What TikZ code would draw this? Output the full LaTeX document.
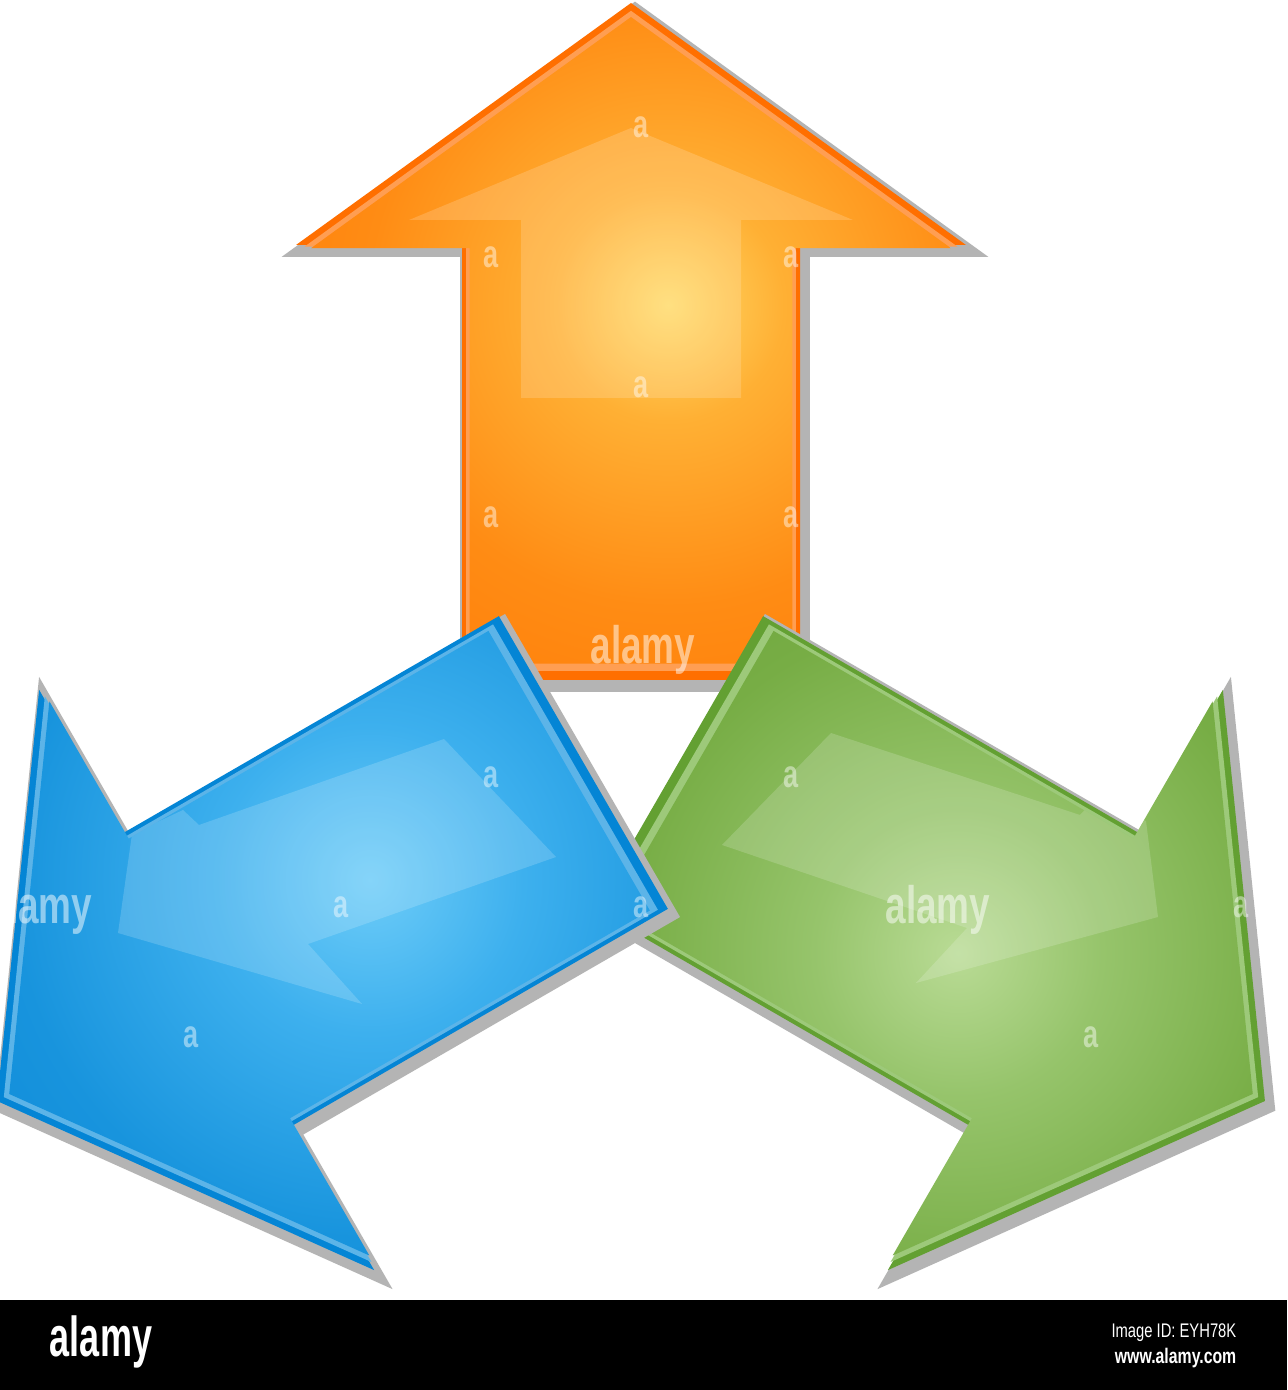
\documentclass[tikz,border=0pt]{standalone}
\usepackage{fontspec}
\newfontfamily\markfont{Liberation Sans}

\definecolor{shadowgray}{HTML}{B4B4B4}
\definecolor{orangeslab}{HTML}{FF6F00}
\definecolor{orangeband}{HTML}{FF9E52}
\definecolor{orangeface}{HTML}{FF7402}
\definecolor{orangemid}{HTML}{FF8C14}
\definecolor{orangelite}{HTML}{FFB034}
\definecolor{orangeglow}{HTML}{FFDA68}
\definecolor{blueslab}{HTML}{0485D5}
\definecolor{blueband}{HTML}{5CB4E8}
\definecolor{blueface}{HTML}{0784D5}
\definecolor{bluemid}{HTML}{1894DD}
\definecolor{bluelite}{HTML}{3DB0EE}
\definecolor{blueglow}{HTML}{6DCCF8}
\definecolor{greenslab}{HTML}{63A032}
\definecolor{greenband}{HTML}{9DC97A}
\definecolor{greenface}{HTML}{659F35}
\definecolor{greenmid}{HTML}{77AD45}
\definecolor{greenlite}{HTML}{96C46B}
\definecolor{greenglow}{HTML}{B9DB95}

\pgfdeclareradialshading{orangeshade}{\pgfpoint{0bp}{0bp}}{color(0bp)=(orangeglow);
  color(5bp)=(orangelite); color(13bp)=(orangemid); color(25bp)=(orangeface); color(50bp)=(orangeface)}
\pgfdeclareradialshading{blueshade}{\pgfpoint{0bp}{0bp}}{color(0bp)=(blueglow);
  color(6bp)=(bluelite); color(14bp)=(bluemid); color(25bp)=(blueface); color(50bp)=(blueface)}
\pgfdeclareradialshading{greenshade}{\pgfpoint{0bp}{0bp}}{color(0bp)=(greenglow);
  color(6bp)=(greenlite); color(14bp)=(greenmid); color(25bp)=(greenface); color(50bp)=(greenface)}

\newcommand\arrowshape[1]{\path[#1] (0,732) -- (335,490) -- (169,490) -- (169,55)
  -- (-169,55) -- (-169,490) -- (-335,490) -- cycle;}

\tikzset{
  shadowcast/.style={fill=shadowgray, draw=shadowgray, line width=3.4pt, line join=miter},
  bandscale/.style={shift={(0,420)}, scale=0.975, shift={(0,-420)}},
  facescale/.style={shift={(0,420)}, scale=0.955, shift={(0,-420)}},
  gloss/.style={fill=white, fill opacity=0.17},
  wmark/.style={text=white, text opacity=0.45, inner sep=0pt,
    font=\markfont\bfseries\fontsize{11pt}{11pt}\selectfont},
  wlogo/.style={text=white, text opacity=0.5, inner sep=0pt,
    font=\markfont\bfseries\fontsize{15pt}{15pt}\selectfont},
}

\begin{document}
\begin{tikzpicture}[x=0.01cm, y=0.01cm]
\useasboundingbox (0,0) rectangle (1287,1390);
\fill[white] (0,0) rectangle (1287,1390);

% up arrow
\arrowshape{shadowcast, shift={(635,649)}}
\arrowshape{fill=orangeslab, shift={(631,655)}}
\arrowshape{fill=orangeband, shift={(631,655)}, bandscale}
\begin{scope}
  \arrowshape{clip, shift={(631,655)}, facescale}
  \shade[shading=orangeshade] (668,1085) circle (580);
  \fill[gloss] (631,1262) -- (853,1170) -- (741,1170) -- (741,992) -- (521,992)
    -- (521,1170) -- (409,1170) -- cycle;
\end{scope}

% right arrow
\arrowshape{shadowcast, shift={(635,649)}, rotate=-120}
\arrowshape{fill=greenslab, shift={(631,655)}, rotate=-120}
\arrowshape{fill=greenband, shift={(631,655)}, rotate=-120, bandscale}
\begin{scope}
  \arrowshape{clip, shift={(631,655)}, rotate=-120, facescale}
  \shade[shading=greenshade] (958,437) circle (600);
  \fill[gloss] (722,545) -- (831,657) -- (1080,575) -- (1094,590) -- (1146,569)
    -- (1158,473) -- (916,407) -- (967,462) -- cycle;
\end{scope}

% left arrow
\arrowshape{shadowcast, shift={(635,649)}, rotate=120}
\arrowshape{fill=blueslab, shift={(631,655)}, rotate=120}
\arrowshape{fill=blueband, shift={(631,655)}, rotate=120, bandscale}
\begin{scope}
  \arrowshape{clip, shift={(631,655)}, rotate=120, facescale}
  \shade[shading=blueshade] (370,510) circle (640);
  \fill[gloss] (118,457) -- (132,556) -- (183,580) -- (199,565) -- (444,651)
    -- (556,533) -- (308,446) -- (362,386) -- cycle;
\end{scope}

% watermark
\foreach \mx/\my [count=\k] in {641/1263, 491/1133, 791/1133, 641/1003, 491/873,
    791/873, 491/613, 791/613, 341/483, 641/483, 1241/483, 191/353, 1091/353}
  \node[wmark] (a\k) at (\mx,\my) {\scalebox{0.7}[1]{a}};
\node[wlogo] (logo1) at (643,740) {\scalebox{0.7}[1]{alamy}};
\node[wlogo] (logo2) at (938,480) {\scalebox{0.7}[1]{alamy}};
\node[wlogo] (logo3) at (40,480) {\scalebox{0.7}[1]{alamy}};

% bottom bar
\fill[black] (0,0) rectangle (1287,90);
\node[text=white, inner sep=0pt, anchor=base,
  font=\markfont\bfseries\fontsize{16pt}{16pt}\selectfont] (barlogo) at (101,33)
  {\scalebox{0.64}[1]{alamy}};
\node[text=white, inner sep=0pt, anchor=base east,
  font=\markfont\fontsize{5.6pt}{6pt}\selectfont] (barid) at (1237,52)
  {\scalebox{0.75}[1]{Image ID: EYH78K}};
\node[text=white, inner sep=0pt, anchor=base east,
  font=\markfont\bfseries\fontsize{6pt}{6pt}\selectfont] (barurl) at (1237,27)
  {\scalebox{0.75}[1]{www.alamy.com}};
\end{tikzpicture}
\end{document}
